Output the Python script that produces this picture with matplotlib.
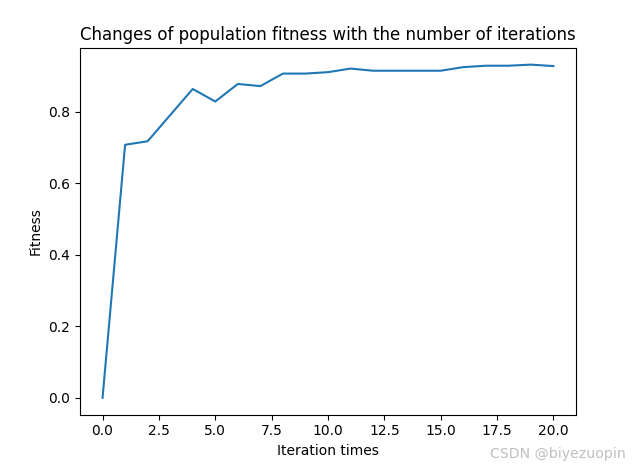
import matplotlib
matplotlib.use("Agg")
import matplotlib.pyplot as plt

iterations = list(range(21))
fitness = [0.0, 0.707, 0.717, 0.790, 0.863, 0.828, 0.877, 0.871, 0.906, 0.906,
           0.910, 0.920, 0.914, 0.914, 0.914, 0.914, 0.924, 0.928, 0.928, 0.931, 0.927]

fig = plt.figure(figsize=(6.4, 4.69), dpi=100)
ax = fig.add_subplot(111)
fig.subplots_adjust(left=0.125, right=0.9, top=0.8977, bottom=0.1162)
ax.plot(iterations, fitness)
ax.set_title("Changes of population fitness with the number of iterations")
ax.set_xlabel("Iteration times")
ax.set_ylabel("Fitness")
fig.text(0.978, 0.018, "CSDN @biyezuopin", ha="right", va="bottom",
         fontsize=10.2, color="#c0c0c0")
fig.savefig("out.png", dpi=100)
